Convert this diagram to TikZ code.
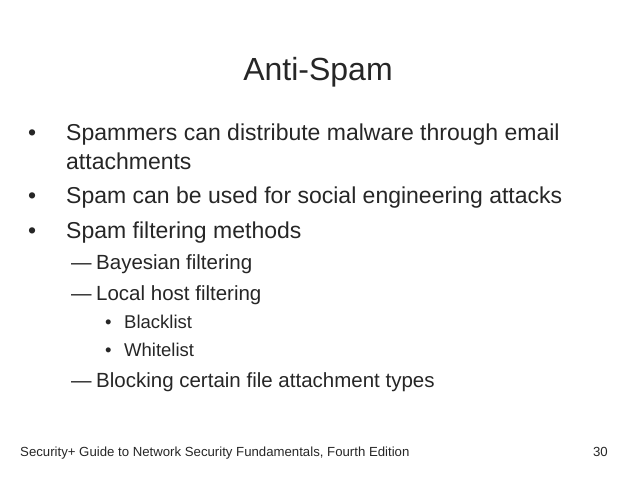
\documentclass[tikz,border=0pt]{standalone}
\usepackage{fontspec}
\setmainfont{Liberation Sans}
\begin{document}
\begin{tikzpicture}[x=1pt,y=-1pt,
  txt/.style={anchor=base west,inner sep=0pt,text=black!85},
  l1/.style={txt,font=\fontsize{23}{26}\selectfont},
  l2/.style={txt,font=\fontsize{20.5}{22}\selectfont},
  l3/.style={txt,font=\fontsize{18.5}{19}\selectfont}]
\useasboundingbox (0,0) rectangle (638,478);
\node[txt,anchor=base,font=\fontsize{32}{34}\selectfont] (title) at (318,81) {Anti-Spam};
\node[l1] (b1d) at (28,141) {•};
\node[l1] (b1) at (66,141) {Spammers can distribute malware through email};
\node[l1] (b1b) at (66,170) {attachments};
\node[l1] (b2d) at (28,204) {•};
\node[l1] (b2) at (66,204) {Spam can be used for social engineering attacks};
\node[l1] (b3d) at (28,239) {•};
\node[l1] (b3) at (66,239) {Spam filtering methods};
\node[l2] (s1d) at (71,270) {—};
\node[l2] (s1) at (96,270) {Bayesian filtering};
\node[l2] (s2d) at (71,301) {—};
\node[l2] (s2) at (96,301) {Local host filtering};
\node[l3] (t1d) at (105,329) {•};
\node[l3] (t1) at (124,329) {Blacklist};
\node[l3] (t2d) at (105,357) {•};
\node[l3] (t2) at (124,357) {Whitelist};
\node[l2] (s3d) at (71,388) {—};
\node[l2] (s3) at (96,388) {Blocking certain file attachment types};
\node[txt,font=\fontsize{13.2}{15}\selectfont] (foot) at (20,457) {Security+ Guide to Network Security Fundamentals, Fourth Edition};
\node[txt,anchor=base east,font=\fontsize{13.2}{15}\selectfont] (pg) at (608,457) {30};
\end{tikzpicture}
\end{document}
